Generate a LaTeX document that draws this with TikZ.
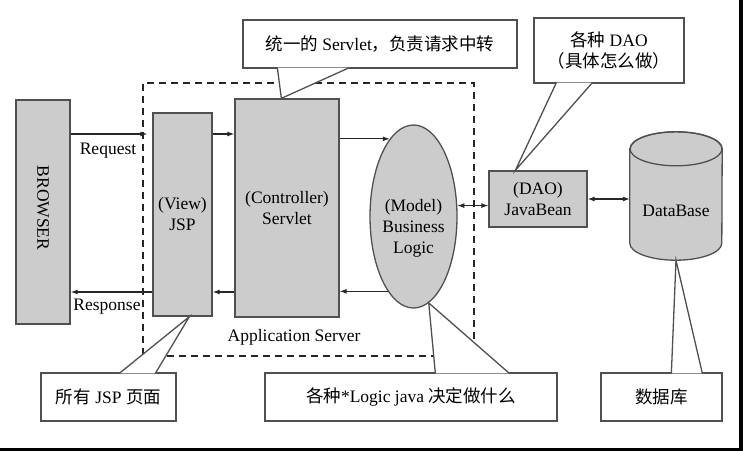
\documentclass[tikz,border=0pt]{standalone}
\usepackage{fontspec}
\setmainfont{Liberation Serif}
\newfontfamily\cjk{Noto Sans CJK SC}
\usetikzlibrary{arrows.meta,calc,positioning,shapes.geometric}
\newcommand{\zh}[1]{{\cjk #1}}
\newcommand{\notetail}[3]{%
  \fill[white] #1 -- #3 -- #2 -- cycle;
  \draw[noteline] #1 -- #3 -- #2;}
\definecolor{boxgray}{RGB}{204,204,204}
\definecolor{edgegray}{RGB}{80,80,80}

\begin{document}
\begin{tikzpicture}[x=1pt, y=-1pt,
  every node/.style={font=\fontsize{17.5}{21}\selectfont, align=center},
  part/.style={draw=edgegray, line width=1.3pt, fill=boxgray, inner sep=0pt},
  note/.style={draw=edgegray, line width=1.3pt, fill=white, inner sep=0pt},
  noteline/.style={edgegray, line width=1.3pt, line join=miter},
  flow/.style={-{Latex[length=7pt,width=5pt]}, line width=1.1pt, black!85},
  both/.style={{Latex[length=7pt,width=5pt]}-{Latex[length=7pt,width=5pt]}, line width=1.1pt, black!85}]

  % Fixed bounding box
  \path[use as bounding box] (0,0) rectangle (743,451);

  % Application server frame
  \node[draw=black!85, line width=1.3pt, dash pattern=on 7pt off 5pt,
        minimum width=331pt, minimum height=273pt, inner sep=0pt] (appsrv) at (308.5,219.5) {};
  \node (appname) at (294,337) {Application Server};

  % Callouts
  \node[note, minimum width=274pt, minimum height=48pt] (servletnote) at (380,44) {\zh{统一的} Servlet\zh{，负责请求中转}};
  \node[note, minimum width=150pt, minimum height=65pt] (daonote) at (609,50.5) {\zh{各种} DAO\\\zh{（具体怎么做）}};
  \node[note, minimum width=135pt, minimum height=48pt] (jspnote) at (108.5,397) {\zh{所有} JSP \zh{页面}};
  \node[note, minimum width=292pt, minimum height=48pt] (logicnote) at (411,397) {\zh{各种}*Logic java \zh{决定做什么}};
  \node[note, minimum width=121pt, minimum height=48pt] (dbnote) at (661.5,397) {\zh{数据库}};

  % Parts
  \node[part, minimum width=54pt, minimum height=224pt] (browser) at (43,212) {};
  \node[rotate=-90] (browsertxt) at (43,208) {BROWSER};
  \node[part, minimum width=59pt, minimum height=203pt] (jsp) at (182.5,214.5) {(View)\\JSP};
  \node[part, minimum width=104pt, minimum height=218pt] (servlet) at (287,208) {(Controller)\\Servlet};
  \node[part, ellipse, minimum width=87pt, minimum height=183pt] (logic) at (413.5,216.5) {};
  \node (logictxt) at (413.5,228) {(Model)\\Business\\Logic};
  \node[part, minimum width=98pt, minimum height=56pt] (bean) at (538,199) {(DAO)\\JavaBean};

  % Database drum
  \node[minimum width=92pt, minimum height=128pt, inner sep=0pt] (db) at (676,196) {};
  \filldraw[part] ($(db.north west)+(0,17)$) -- ($(db.south west)+(0,-17)$)
    arc[start angle=180, end angle=360, x radius=46pt, y radius=17pt]
    -- ($(db.north east)+(0,17)$)
    arc[start angle=0, end angle=180, x radius=46pt, y radius=17pt] -- cycle;
  \draw[part, fill=none] ($(db.north)+(0,17)$) ellipse [x radius=46pt, y radius=17pt];
  \node (dbtxt) at (676,211) {DataBase};

  % Callout tails
  \notetail{($(servletnote.south west)+(35,-1)$)}{($(servletnote.south west)+(107,-1)$)}{($(servlet.north west)+(47,0)$)}
  \notetail{($(daonote.south west)+(23,-1)$)}{($(daonote.south west)+(59,-1)$)}{($(bean.north west)+(27,0)$)}
  \notetail{($(jspnote.north west)+(79,1)$)}{($(jspnote.north west)+(115,1)$)}{($(jsp.south west)+(37,0)$)}
  \notetail{($(logicnote.north west)+(171,1)$)}{($(logicnote.north west)+(245,1)$)}{(logic.-80)}
  \notetail{($(dbnote.north west)+(71,1)$)}{($(dbnote.north west)+(102,1)$)}{(db.south)}

  % Request / response flow
  \coordinate (reqrow) at (0,134);
  \coordinate (resprow) at (0,292);
  \draw[flow, shorten >=5pt] (browser.east |- reqrow) -- (jsp.west |- reqrow);
  \draw[flow] (jsp.east |- reqrow) -- (servlet.west |- reqrow);
  \draw[flow] (servlet.east |- logic.107) -- (logic.107);
  \draw[flow] (logic.251) -- (servlet.east |- logic.251);
  \draw[flow] (servlet.west |- resprow) -- (jsp.east |- resprow);
  \draw[flow] (jsp.west |- resprow) -- (browser.east |- resprow);
  \draw[both] (logic.14) -- (bean.west |- logic.14);
  \draw[both] (bean.east) -- (db.west |- bean.east);
  \node (reqlbl) at (108,151) {Request};
  \node (resplbl) at (107,307) {Response};

  % Screenshot edges
  \fill[black] (739,0) rectangle (743,451);
  \fill[black] (0,448) rectangle (743,451);
\end{tikzpicture}
\end{document}
